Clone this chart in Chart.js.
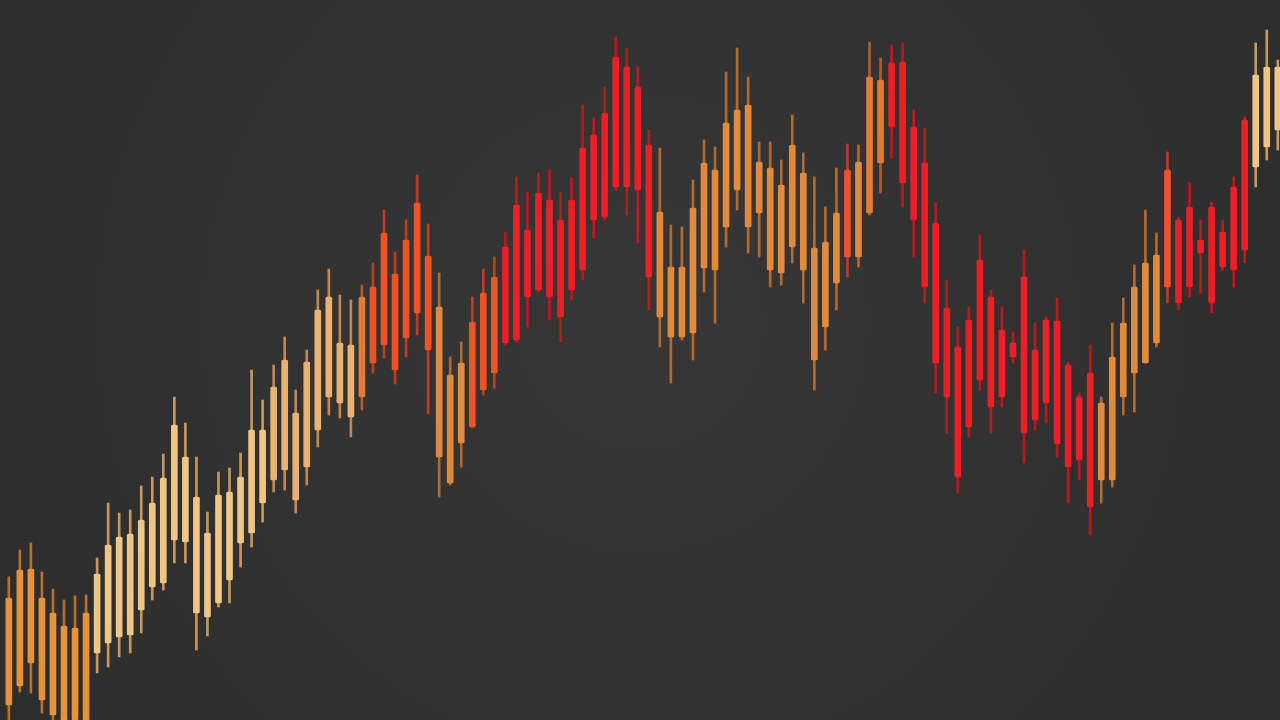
<!DOCTYPE html>
<html>
<head>
<meta charset="utf-8">
<style>
  html, body { margin: 0; padding: 0; background: #2f2f2f; overflow: hidden; }
  canvas { display: block; }
</style>
</head>
<body>
<canvas id="candles" width="1280" height="720"></canvas>
<script src="https://cdn.jsdelivr.net/npm/chart.js@4/dist/chart.umd.min.js"></script>
<script>
// candle values (points), left to right
const high = [143,170,177,148,131,120,124,125,162,217,207,210,234,243,266,323,297,263,208,248,
  252,267,350,320,355,383,330,370,430,451,425,420,435,457,510,468,500,545,496,447,
  363,378,423,451,463,488,543,528,547,550,528,542,615,602,633,683,672,653,590,572,
  495,493,540,580,573,648,672,643,578,578,560,605,567,543,513,552,576,575,678,662,
  675,677,610,592,517,440,393,413,485,430,413,388,470,397,403,422,358,327,375,323,
  397,422,455,510,487,568,503,537,500,518,500,543,603,677,690,660];
const close = [122,150,151,122,107,94,92,107,146,175,183,186,200,217,242,295,263,223,187,225,
  228,243,290,290,333,360,307,358,410,423,377,375,423,433,487,446,480,517,464,413,
  345,357,398,427,443,473,515,490,527,520,500,520,572,585,607,663,653,633,575,508,
  453,453,512,557,550,597,610,615,558,552,535,575,547,472,478,507,550,558,643,640,
  657,658,593,557,497,412,373,400,460,423,390,377,443,370,400,399,355,323,347,317,
  363,397,433,457,465,550,500,513,480,513,488,533,600,645,653,653];
const open = [15,34,57,20,5,-5,0,0,67,77,83,85,110,133,137,180,178,107,103,117,
  140,177,187,217,240,250,220,253,290,323,317,303,323,357,375,350,382,407,370,263,
  237,277,293,330,347,377,380,423,430,423,403,430,450,500,503,533,533,530,443,403,
  383,383,387,452,450,493,530,493,507,450,447,473,450,360,393,437,463,463,507,557,
  593,537,500,433,357,323,243,293,340,313,323,363,287,300,317,276,253,260,213,240,
  240,323,347,357,377,433,417,433,467,417,453,450,470,553,573,590];
const low = [-5,28,27,7,-10,-20,-15,-12,47,53,63,67,87,120,130,157,157,70,84,113,
  117,153,173,198,228,230,207,235,273,305,302,283,310,347,362,336,363,385,306,223,
  235,253,292,325,332,375,378,393,428,400,378,420,440,482,500,530,505,477,410,373,
  337,380,360,428,397,473,510,467,463,433,435,457,417,330,370,410,443,453,505,527,
  562,513,463,417,327,287,227,283,330,287,313,357,257,290,297,263,217,240,185,217,
  233,305,308,357,373,417,410,423,427,407,450,433,457,533,560,570];
// colour group of each candle
const tone = ['o','o','o','o','o','o','o','o','p','p','p','p','p','p','p','p','p','p','p','p',
  'p','p','p','p','t','t','t','t','t','t','t','t','a','v','v','v','v','v','v','m',
  'm','m','v','v','v','r','r','r','r','r','r','r','r','r','r','r','r','r','r','m',
  'm','m','m','m','m','m','m','m','m','m','m','m','m','m','m','m','v','m','a','a',
  'r','r','r','r','r','r','r','r','r','r','r','r','r','r','r','r','r','r','r','m',
  'm','m','m','m','m','v','r','r','r','r','r','r','r','p','p','p'];

const bodyCol = { o: '#e6923a', p: '#efc686', t: '#e9b272', a: '#e47a34', v: '#ee5326', m: '#e28a3c', r: '#ec1f26' };
const wickCol = { o: '#b8702c', p: '#c9975c', t: '#c08850', a: '#b85a26', v: '#c03c1e', m: '#b46a2c', r: '#b81a1e' };

const idx = high.map((_, i) => i);

const bgPlugin = {
  id: 'bg',
  beforeDraw(chart) {
    const c = chart.ctx, w = chart.width, h = chart.height;
    const g = c.createRadialGradient(w * 0.5, h * 0.45, 50, w * 0.5, h * 0.45, w * 0.75);
    g.addColorStop(0, '#363636');
    g.addColorStop(1, '#2a2a2a');
    c.save();
    c.fillStyle = g;
    c.fillRect(0, 0, w, h);
    c.restore();
  }
};

new Chart(document.getElementById('candles'), {
  type: 'bar',
  data: {
    datasets: [{
      label: 'wick',
      data: idx.map(i => ({ x: i, y: [low[i], high[i]] })),
      backgroundColor: idx.map(i => wickCol[tone[i]]),
      barThickness: 2,
      grouped: false,
      order: 2
    }, {
      label: 'body',
      data: idx.map(i => ({ x: i, y: [open[i], close[i]] })),
      backgroundColor: idx.map(i => bodyCol[tone[i]]),
      barThickness: 6,
      borderRadius: 1.5,
      borderSkipped: false,
      grouped: false,
      order: 1
    }]
  },
  options: {
    responsive: false,
    animation: false,
    layout: { padding: 0 },
    scales: {
      x: { type: 'linear', min: -0.8, max: 115.2, offset: false, display: false },
      y: { min: 0, max: 720, display: false }
    },
    plugins: { legend: { display: false }, tooltip: { enabled: false } }
  },
  plugins: [bgPlugin]
});
</script>
</body>
</html>
